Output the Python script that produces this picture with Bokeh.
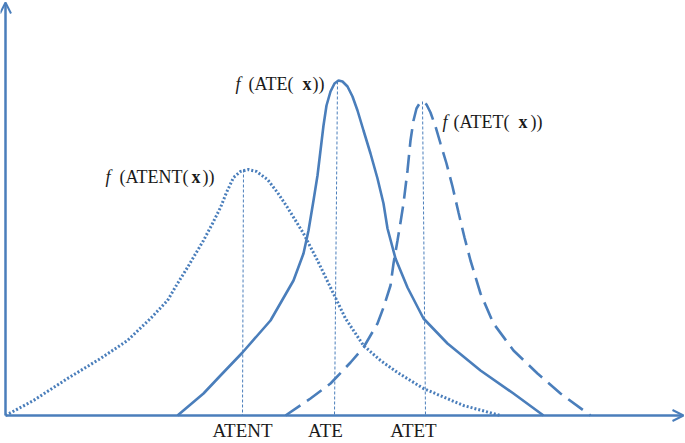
from bokeh.plotting import figure
from bokeh.models import Arrow, OpenHead, Range1d
from bokeh.core.properties import value
from bokeh.embed import file_html
from bokeh.resources import INLINE

# ---- data (x measured from the vertical axis, y above the horizontal axis) ----
atent_x = [0, 28, 62, 95, 122, 145, 162, 172, 182, 192, 198, 207, 215, 221, 228, 235, 243, 251, 262, 272, 282, 298, 312, 325, 340, 358, 375, 392, 418, 458, 495]
atent_y = [0, 15, 37, 57, 75, 97, 115, 132, 148, 165, 175, 192, 208, 223, 238, 244, 246, 244, 236, 223, 208, 182, 155, 128, 97, 70, 55, 43, 27, 10, 0]

ate_x = [172, 198, 215, 237, 265, 288, 298, 303, 308, 312, 315, 318, 321, 325, 329, 333, 337, 342, 347, 352, 358, 365, 372, 378, 382, 390, 402, 418, 442, 475, 508, 538]
ate_y = [0, 22, 40, 63, 95, 135, 162, 185, 215, 240, 265, 290, 310, 324, 332, 335, 334, 329, 319, 305, 285, 262, 237, 212, 187, 157, 128, 97, 72, 45, 22, 0]

atet_x = [280, 305, 325, 345, 358, 372, 378, 385, 388, 392, 395, 398, 402, 405, 408, 411, 414, 417, 421, 425, 430, 435, 441, 447, 453, 459, 465, 475, 488, 508, 532, 555, 585]
atet_y = [0, 17, 32, 53, 68, 92, 108, 130, 152, 175, 193, 212, 245, 275, 295, 307, 312, 314, 311, 303, 289, 272, 252, 229, 203, 178, 155, 122, 92, 65, 42, 22, 0]

# vertical reference lines at the three effects (top x, top y, bottom x)
ref_top_x = [238, 332, 417]
ref_top_y = [246, 334, 314]
ref_bot_x = [237, 329, 420]

tick_labels = ["ATENT", "ATE", "ATET"]
tick_label_x = [237, 320, 408]

func_names = ["(ATENT(", "(ATE(", "(ATET("]

BLUE = "#4A7EBB"
TXT = "#1a1a1a"
FONT = "Liberation Serif"

p = figure(width=685, height=443, output_backend="svg", toolbar_location=None,
           x_range=Range1d(-5, 680), y_range=Range1d(-28, 415), min_border=0)
p.xaxis.visible = False
p.yaxis.visible = False
p.xgrid.visible = False
p.ygrid.visible = False
p.outline_line_color = None
p.background_fill_color = "white"
p.border_fill_color = "white"

# axes with arrows
p.add_layout(Arrow(end=OpenHead(size=11, line_color=BLUE, line_width=2),
                   x_start=0, y_start=0, x_end=678, y_end=0,
                   line_color=BLUE, line_width=2.5))
p.add_layout(Arrow(end=OpenHead(size=11, line_color=BLUE, line_width=2),
                   x_start=0, y_start=0, x_end=0, y_end=413,
                   line_color=BLUE, line_width=2.5))

# curves
p.line(atent_x, atent_y, line_color=BLUE, line_width=3, line_dash="2 2")
p.line(ate_x, ate_y, line_color=BLUE, line_width=2.6)
p.line(atet_x, atet_y, line_color=BLUE, line_width=2.6, line_dash="18 8")

# vertical reference lines
p.segment(x0=ref_top_x, y0=ref_top_y, x1=ref_bot_x, y1=[0, 0, 0],
          line_color=BLUE, line_width=1, line_dash="3 2")

# tick labels below the axis
p.text(x=tick_label_x, y=[-15] * 3, text=tick_labels, text_align="center",
       text_baseline="alphabetic", text_font=value(FONT), text_font_size="19px",
       text_color=TXT)

# function labels: f (NAME( x))
lab_f_x = [100, 230, 437]
lab_name_x = [114, 243, 448]
lab_x_x = [186, 297, 513]
lab_close_x = [197, 307, 525]
lab_y = [239, 332, 294]

common = dict(text_baseline="alphabetic", text_align="left", text_font=value(FONT),
              text_font_size="18px", text_color=TXT)
p.text(x=lab_f_x, y=lab_y, text=["f"] * 3, text_font_style="italic", **common)
p.text(x=lab_name_x, y=lab_y, text=func_names, **common)
p.text(x=lab_x_x, y=lab_y, text=["x"] * 3, text_font_style="bold", **common)
p.text(x=lab_close_x, y=lab_y, text=["))"] * 3, **common)

open("out.html", "w").write(file_html(p, INLINE))
